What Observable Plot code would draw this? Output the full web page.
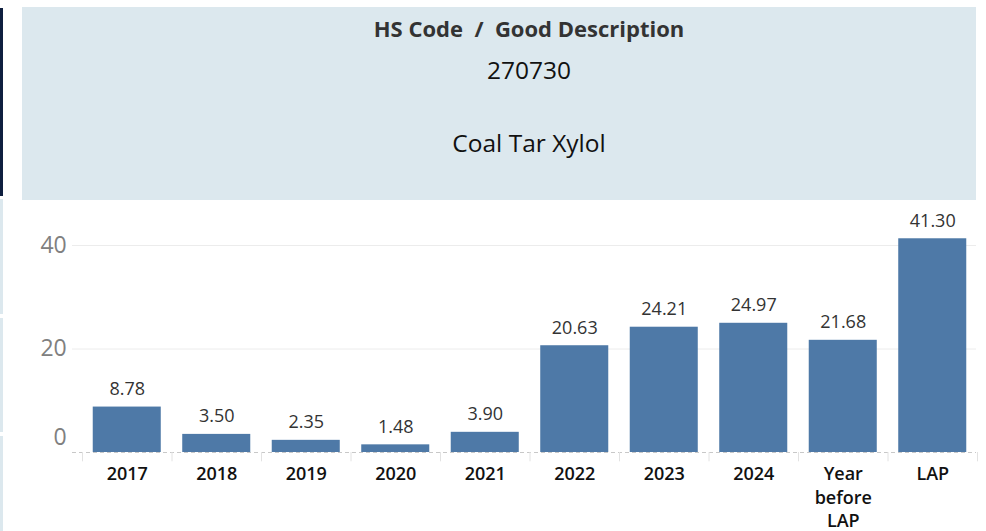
<!DOCTYPE html>
<html><head><meta charset="utf-8">
<script src="https://cdn.jsdelivr.net/npm/d3@7"></script>
<script src="https://cdn.jsdelivr.net/npm/@observablehq/plot@0.6"></script>
<style>
body{margin:0;background:#fff;width:986px;height:531px;position:relative;overflow:hidden;font-family:"Open Sans",sans-serif;}
#hdr{position:absolute;left:22px;top:7px;width:954px;height:193px;background:#dce8ee;}
.t{position:absolute;left:0;width:1058px;text-align:center;color:#111;font-size:24.5px;}
#navy{position:absolute;left:0;top:8px;width:3px;height:188px;background:#0f1f3f;}
.strip{position:absolute;left:0;width:3px;background:#dce8ee;}
#chart{position:absolute;left:0;top:200px;}
</style></head>
<body>
<div id="navy"></div>
<div class="strip" style="top:199px;height:115px"></div>
<div class="strip" style="top:318px;height:114px"></div>
<div class="strip" style="top:436px;height:95px"></div>
<div id="hdr"></div>
<div class="t" style="top:13px;font-weight:700;color:#333;font-size:22px;">HS Code&nbsp;&nbsp;/&nbsp;&nbsp;Good Description</div>
<div class="t" style="top:53px;">270730</div>
<div class="t" style="top:126px;">Coal Tar Xylol</div>
<div id="chart"></div>
<script>
const categories = ["2017","2018","2019","2020","2021","2022","2023","2024","Year before LAP","LAP"];
const values = [8.78, 3.50, 2.35, 1.48, 3.90, 20.63, 24.21, 24.97, 21.68, 41.30];
const yTicks = [20, 40];
const data = categories.map((c, i) => ({cat: c, v: values[i]}));
const step = 895 / 10;
const plot = Plot.plot({
  width: 986, height: 331,
  marginLeft: 72, marginRight: 10, marginTop: 0, marginBottom: 79,
  style: {fontFamily: "Open Sans, sans-serif", background: "transparent"},
  x: {domain: categories, range: [82, 977], paddingInner: 0.24, paddingOuter: 0.12, align: 0.5, round: false, axis: null},
  y: {domain: [0, 40], range: [252, 45], axis: null},
  marks: [
    Plot.ruleY(yTicks, {stroke: "#ececec", strokeWidth: 1}),
    Plot.barY(data, {x: "cat", y: "v", fill: "#4e79a7"}),
    Plot.ruleY([0], {stroke: "#c8c8c8", strokeDasharray: "4,3"}),
    Plot.ruleX(categories, {x: d => d, y1: 0, y2: -1.8, dx: -step / 2, stroke: "#e2e2e2"}),
    Plot.ruleX([categories[categories.length - 1]], {x: d => d, y1: 0, y2: -1.8, dx: step / 2, stroke: "#e2e2e2"}),
    Plot.text(data, {x: "cat", y: "v", text: d => d.v.toFixed(2), lineAnchor: "bottom", dy: -12, fontSize: 18, fill: "#333"}),
    Plot.text(categories, {x: d => d, y: 0, text: d => d === "Year before LAP" ? "Year\nbefore\nLAP" : d, lineAnchor: "top", dy: 11, fontSize: 18, fontWeight: 600, fill: "#111", lineHeight: 1.3}),
    Plot.text(yTicks, {x: () => categories[0], y: d => d, text: d => String(d), textAnchor: "end", dx: -(126.5 - 66), fontSize: 23, fill: "#808080"}),
    Plot.text([0], {x: () => categories[0], y: d => d, text: d => String(d), textAnchor: "end", dx: -(126.5 - 66), dy: -15, fontSize: 23, fill: "#808080"})
  ]
});
document.getElementById("chart").appendChild(plot);
</script>
</body></html>
